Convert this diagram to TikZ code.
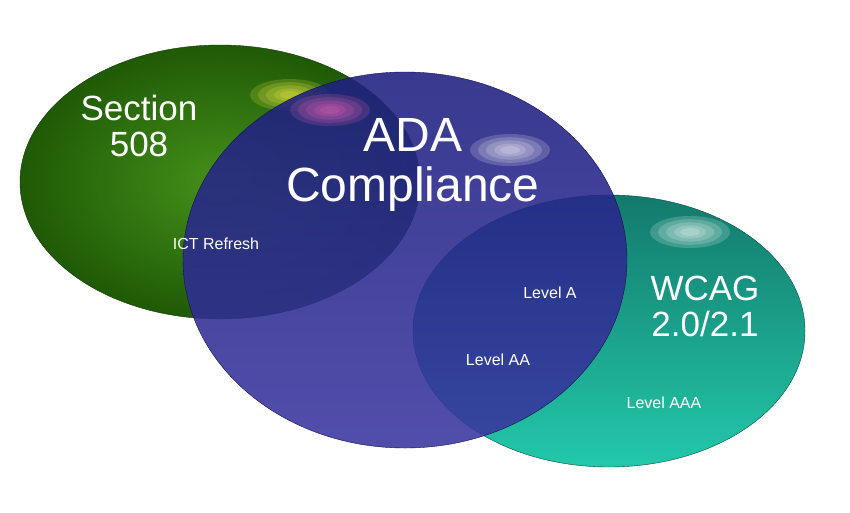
\documentclass[tikz,border=0pt]{standalone}
\usepackage{fontspec}
\setmainfont{Liberation Sans}
\begin{document}
\begin{tikzpicture}[x=1pt,y=-1pt,
  lbl/.style={text=white,font=\fontsize{16}{18}\selectfont},
  big/.style={text=white,align=center,font=\fontsize{35}{40}\selectfont},
  glow/.pic={\foreach \s in {1,0.8,0.6,0.4,0.25}{\fill[#1,opacity=0.18] (0,0) ellipse [x radius=40*\s,y radius=16*\s];}}]
\definecolor{gA}{HTML}{1F5A06}\definecolor{gB}{HTML}{45901A}
\definecolor{tA}{HTML}{137A6C}\definecolor{tB}{HTML}{22C8AA}
\definecolor{bA}{HTML}{1E1E80}\definecolor{bB}{HTML}{3A36A0}
\useasboundingbox (0,0) rectangle (850,512);
\fill[white] (0,0) rectangle (850,512);
\shade[inner color=gB,outer color=gA,draw=gA!60!black] (220,182) ellipse [x radius=200,y radius=137];
\shade[top color=tA,bottom color=tB,draw=tA!60!black] (609,331) ellipse [x radius=196,y radius=136];
\pic at (690,232) {glow=white};
\pic at (290,95) {glow=yellow!70};
\shade[top color=bA,bottom color=bB,opacity=0.88,draw=bA!60!black,draw opacity=1] (405,260) ellipse [x radius=222,y radius=188];
\pic at (510,150) {glow=white};
\pic at (330,110) {glow=magenta!60};
\node[big] (s) at (139,126) {Section\\[-4pt]508};
\node[big,font=\fontsize{48}{54}\selectfont] (a) at (413,165) {ADA\\[-4pt]Compliance};
\node[big] (w) at (705,306) {WCAG\\[-4pt]2.0/2.1};
\node[lbl] (i) at (216,244) {ICT Refresh};
\node[lbl] (l1) at (550,293) {Level A};
\node[lbl] (l2) at (498,360) {Level AA};
\node[lbl] (l3) at (664,403) {Level AAA};
\end{tikzpicture}
\end{document}
